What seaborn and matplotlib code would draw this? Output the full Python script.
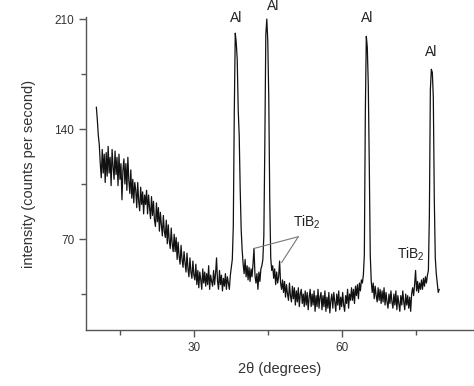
import numpy as np
import pandas as pd
import matplotlib
matplotlib.use("Agg")
import matplotlib.pyplot as plt
import seaborn as sns
from matplotlib.ticker import FixedLocator

# ---- data ----
two_theta_start = 10.2
two_theta_step = 0.2
intensity = [
    154, 146, 136, 130, 118, 109, 127, 112, 124, 106,   # 10.2-12.0
    125, 110, 129, 112, 122, 104, 127, 116, 108, 126,   # 12.2-14.0
    111, 122, 104, 124, 108, 118, 95, 114, 121, 105,    # 14.2-16.0
    118, 101, 122, 107, 99, 114, 96, 108, 93, 106,      # 16.2-18.0
    101, 90, 106, 94, 88, 103, 92, 100, 86, 98,         # 18.2-20.0
    92, 101, 86, 98, 90, 83, 97, 85, 94, 82,            # 20.2-22.0
    78, 93, 81, 90, 75, 87, 79, 72, 85, 75,             # 22.2-24.0
    71, 82, 67, 79, 69, 64, 77, 67, 62, 73,             # 24.2-26.0
    62, 71, 57, 68, 59, 54, 66, 57, 52, 62,             # 26.2-28.0
    55, 49, 61, 51, 46, 58, 49, 45, 56, 47,             # 28.2-30.0
    44, 54, 41, 50, 39, 49, 44, 38, 51, 42,             # 30.2-32.0
    49, 40, 48, 41, 53, 38, 47, 43, 40, 50,             # 32.2-34.0
    41, 48, 58, 43, 38, 50, 41, 47, 37, 45,             # 34.2-36.0
    40, 48, 38, 46, 42, 38, 47, 52, 57, 78,             # 36.2-38.0
    150, 201, 195, 184, 152, 136, 102, 76, 63, 54,      # 38.2-40.0
    48, 57, 46, 53, 44, 52, 43, 51, 46, 54,             # 40.2-42.0
    64, 47, 42, 48, 38, 49, 43, 51, 53, 57,             # 42.2-44.0
    72, 130, 200, 210, 196, 160, 95, 58, 50, 53,        # 44.2-46.0
    45, 51, 41, 49, 42, 46, 56, 42, 38, 44,             # 46.2-48.0
    36, 43, 33, 41, 35, 31, 42, 34, 30, 40,             # 48.2-50.0
    32, 39, 28, 37, 30, 39, 27, 35, 38, 29,             # 50.2-52.0
    35, 27, 37, 28, 36, 25, 33, 38, 27, 35,             # 52.2-54.0
    28, 37, 24, 34, 27, 38, 26, 33, 36, 25,             # 54.2-56.0
    34, 27, 37, 24, 33, 26, 36, 23, 31, 35,             # 56.2-58.0
    26, 36, 30, 24, 35, 28, 37, 25, 33, 27,             # 58.2-60.0
    36, 28, 24, 34, 29, 38, 26, 35, 31, 39,             # 60.2-62.0
    31, 38, 29, 40, 34, 41, 32, 42, 37, 44,             # 62.2-64.0
    42, 47, 60, 150, 199, 192, 168, 118, 60, 43,        # 64.2-66.0
    36, 42, 32, 40, 34, 30, 39, 31, 38, 29,             # 66.2-68.0
    37, 30, 39, 28, 36, 30, 26, 35, 29, 37,             # 68.2-70.0
    30, 26, 35, 28, 37, 25, 34, 29, 24, 34,             # 70.2-72.0
    28, 37, 30, 25, 35, 28, 34, 26, 33, 24,             # 72.2-74.0
    35, 39, 34, 41, 50, 37, 43, 36, 42, 38,             # 74.2-76.0
    44, 38, 45, 40, 46, 42, 47, 50, 85, 165,            # 76.2-78.0
    178, 176, 160, 95, 58, 48, 42, 36, 38,              # 78.2-79.8
]
two_theta = np.round(two_theta_start + two_theta_step * np.arange(len(intensity)), 2)

al_label_x = [38.5, 46.1, 65.25, 78.25]
al_label_y = [206.2, 213.6, 206.2, 184.5]
tib2_peaks_x = [42.2, 47.8]
tib2_peaks_y = [64, 55]
tib2_label_xy = [(52.9, 77.9), (74.0, 57.7)]
tib2_leader_start = (51.2, 71.5)

x_major = [30, 60]
x_minor = [15, 45, 75]
y_major = [70, 140, 210]
y_minor = [35, 105, 175]

df = pd.DataFrame({"two_theta": two_theta, "intensity": intensity})

# ---- style ----
sns.set_style("ticks")
plt.rcParams["font.family"] = ["Liberation Sans", "DejaVu Sans"]
plt.rcParams["mathtext.fontset"] = "custom"
plt.rcParams["mathtext.rm"] = "Liberation Sans"

fig = plt.figure(figsize=(4.74, 3.86), dpi=100)
ax = fig.add_axes([0.1814, 0.145, 0.818, 0.811])

sns.lineplot(data=df, x="two_theta", y="intensity", ax=ax, color="#111111",
             linewidth=0.9, estimator=None, sort=False)

ax.set_xlim(8.1, 86.8)
ax.set_ylim(12.1, 211.3)

ax.xaxis.set_major_locator(FixedLocator(x_major))
ax.xaxis.set_minor_locator(FixedLocator(x_minor))
ax.yaxis.set_major_locator(FixedLocator(y_major))
ax.yaxis.set_minor_locator(FixedLocator(y_minor))

spine_col = "#555555"
text_col = "#333333"
for s in ["top", "right"]:
    ax.spines[s].set_visible(False)
for s in ["left", "bottom"]:
    ax.spines[s].set_color(spine_col)
    ax.spines[s].set_linewidth(1.0)

ax.tick_params(which="major", direction="out", length=5, width=1.0,
               color=spine_col, labelsize=8.5, labelcolor=text_col, pad=3.5)
ax.tick_params(which="minor", direction="out", length=3.5, width=1.0,
               color=spine_col)

ax.set_xlabel("2θ (degrees)", fontsize=10.5, color=text_col, labelpad=6)
ax.set_ylabel("intensity (counts per second)", fontsize=10.5, color=text_col,
              labelpad=13)

for xl, yl in zip(al_label_x, al_label_y):
    ax.text(xl, yl, "Al", ha="center", va="bottom", fontsize=10,
            color="#222222", clip_on=False)

for (xl, yl) in tib2_label_xy:
    ax.text(xl, yl, r"TiB$_2$", ha="center", va="baseline", fontsize=10,
            color="#222222")

for px, py in zip(tib2_peaks_x, tib2_peaks_y):
    ax.annotate("", xy=(px, py), xytext=tib2_leader_start,
                arrowprops=dict(arrowstyle="-", color="#777777", lw=0.8,
                                shrinkA=0, shrinkB=0))

fig.savefig("out.png", dpi=100)
